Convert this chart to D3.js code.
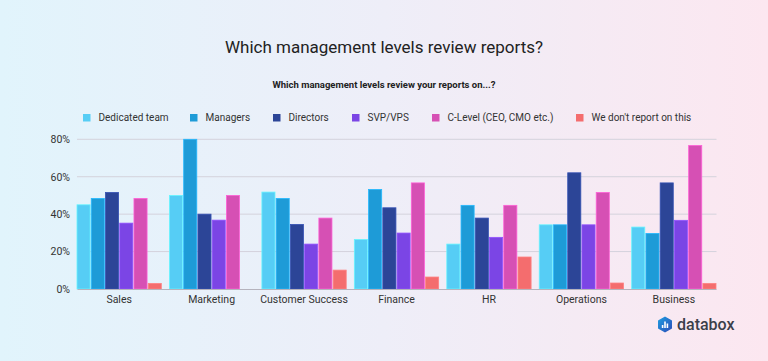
<!DOCTYPE html>
<html>
<head>
<meta charset="utf-8">
<title>Which management levels review reports?</title>
<style>
  html, body { margin: 0; padding: 0; }
  body { width: 768px; height: 361px; overflow: hidden; font-family: Roboto, "Noto Sans", sans-serif; }
</style>
</head>
<body>
<div id="chart"></div>
<script src="https://cdn.jsdelivr.net/npm/d3@7/dist/d3.min.js"></script>
<script>
// data (percent)
var categories = ["Sales", "Marketing", "Customer Success", "Finance", "HR", "Operations", "Business"];
var seriesNames = ["Dedicated team", "Managers", "Directors", "SVP/VPS", "C-Level (CEO, CMO etc.)", "We don't report on this"];
var seriesColors = ["#56cdf5", "#1e9bd7", "#2c4597", "#7b45e5", "#d650b4", "#f46d6e"];
var dedicatedTeam = [45.0, 50.0, 51.8, 26.5, 24.0, 34.3, 33.1];
var managers      = [48.4, 80.0, 48.4, 53.2, 44.7, 34.3, 29.7];
var directors     = [51.6, 40.0, 34.5, 43.4, 37.9, 62.1, 56.7];
var svpVps        = [35.2, 36.8, 24.0, 29.9, 27.6, 34.3, 36.7];
var cLevel        = [48.4, 50.0, 37.9, 56.7, 44.7, 51.6, 76.7];
var noReport      = [3.0, 0, 10.1, 6.4, 17.1, 3.2, 3.0];
var yTicks = [0, 20, 40, 60, 80];

var series = [dedicatedTeam, managers, directors, svpVps, cLevel, noReport];

var W = 768, H = 361;
var svg = d3.select('#chart').append('svg').attr('width', W).attr('height', H);

var defs = svg.append('defs');
var bg = defs.append('linearGradient').attr('id', 'bg').attr('x1', 0).attr('x2', 1).attr('y1', 0).attr('y2', 0);
bg.append('stop').attr('offset', '0%').attr('stop-color', '#e1f4fc');
bg.append('stop').attr('offset', '50%').attr('stop-color', '#eeeef8');
bg.append('stop').attr('offset', '100%').attr('stop-color', '#fce7f0');
svg.append('rect').attr('width', W).attr('height', H).attr('fill', 'url(#bg)');

svg.append('text').attr('x', 384).attr('y', 53).attr('text-anchor', 'middle')
  .attr('font-size', 17).attr('fill', '#222').text('Which management levels review reports?');
svg.append('text').attr('x', 384).attr('y', 88).attr('text-anchor', 'middle')
  .attr('font-size', 9.5).attr('font-weight', 'bold').attr('fill', '#222')
  .text('Which management levels review your reports on...?');

// legend
var legendX = [83, 190, 273, 352, 432, 576];
var legend = svg.append('g');
seriesNames.forEach(function (name, i) {
  legend.append('rect').attr('x', legendX[i]).attr('y', 114).attr('width', 7.5).attr('height', 7.5)
    .attr('fill', seriesColors[i]);
  legend.append('text').attr('x', legendX[i] + 15.5).attr('y', 121).attr('font-size', 10)
    .attr('fill', '#333').text(name);
});

var x0 = d3.scaleBand().domain(categories).range([77, 716]).paddingInner(0.088).paddingOuter(0);
var x1 = d3.scaleBand().domain(d3.range(seriesNames.length)).range([0, x0.bandwidth()]).paddingInner(0.08);
var y = d3.scaleLinear().domain([0, 80]).range([289, 139.3]);

// grid
svg.append('g').selectAll('line').data(yTicks.slice(1)).join('line')
  .attr('x1', 77).attr('x2', 716.5)
  .attr('y1', function (d) { return y(d); }).attr('y2', function (d) { return y(d); })
  .attr('stroke', '#d4d2dc').attr('stroke-width', 1);

var yAxis = svg.append('g').attr('transform', 'translate(77,0)')
  .call(d3.axisLeft(y).tickValues(yTicks).tickSize(0).tickPadding(7).tickFormat(function (d) { return d + '%'; }));
yAxis.select('.domain').remove();
yAxis.selectAll('text').attr('font-size', 10.5).attr('fill', '#333').attr('font-family', 'Roboto, sans-serif');

// bars
var groups = svg.append('g').selectAll('g').data(categories).join('g')
  .attr('transform', function (d) { return 'translate(' + x0(d) + ',0)'; });
groups.selectAll('rect').data(function (d, ci) {
  return series.map(function (s, si) { return { si: si, v: s[ci] }; });
}).join('rect')
  .attr('x', function (d) { return x1(d.si); })
  .attr('width', x1.bandwidth())
  .attr('y', function (d) { return y(d.v); })
  .attr('height', function (d) { return y(0) - y(d.v); })
  .attr('fill', function (d) { return seriesColors[d.si]; })
  .attr('stroke', function (d) { return d3.color(seriesColors[d.si]).brighter(0.5); })
  .attr('stroke-width', d => d.v > 0 ? 0.8 : 0);

// x axis
var xAxis = svg.append('g').attr('transform', 'translate(0,289)')
  .call(d3.axisBottom(x0).tickSize(0).tickPadding(7));
xAxis.select('.domain').attr('stroke', '#b5b3bd').attr('stroke-width', 1.2);
xAxis.selectAll('text').attr('font-size', 10.5).attr('fill', '#333').attr('font-family', 'Roboto, sans-serif');

// databox logo
var logo = svg.append('g').attr('transform', 'translate(665,324.5)');
var lg = defs.append('linearGradient').attr('id', 'logo').attr('x1', 0).attr('x2', 1).attr('y1', 0).attr('y2', 1);
lg.append('stop').attr('offset', '0%').attr('stop-color', '#1e9be0');
lg.append('stop').attr('offset', '100%').attr('stop-color', '#2c4fb8');
var hex = d3.range(6).map(function (i) {
  var a = Math.PI / 3 * i - Math.PI / 2;
  return [7.2 * Math.cos(a), 7.2 * Math.sin(a)];
});
logo.append('path').attr('d', 'M' + hex.join('L') + 'Z').attr('fill', 'url(#logo)')
  .attr('stroke', 'url(#logo)').attr('stroke-width', 1.5).attr('stroke-linejoin', 'round');
[[-3.2, 0.5, 3], [-0.8, -3, 6.5], [1.6, -1, 4.5]].forEach(function (b) {
  logo.append('rect').attr('x', b[0]).attr('y', b[1]).attr('width', 1.6).attr('height', b[2]).attr('fill', '#fff');
});
svg.append('text').attr('x', 677).attr('y', 330).attr('font-size', 16).attr('font-weight', 500)
  .attr('fill', '#3b3f4a').attr('font-family', 'Roboto, sans-serif').text('databox');
</script>
</body>
</html>
